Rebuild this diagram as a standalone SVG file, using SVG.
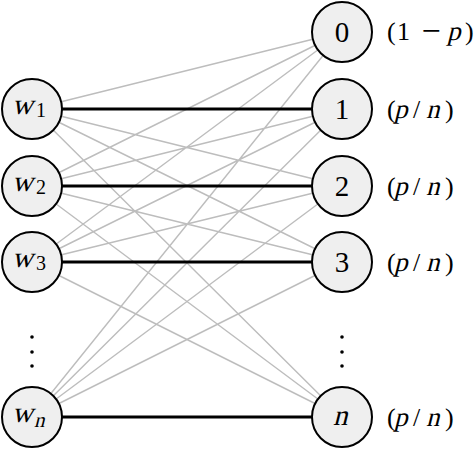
<svg xmlns="http://www.w3.org/2000/svg" width="474" height="450" viewBox="0 0 474 450">
<style>
.g{stroke:#bdbdbd;stroke-width:1.4;fill:none}
.k{stroke:#000;stroke-width:2.8;fill:none}
.n{fill:#efefef;stroke:#000;stroke-width:2}
text{font-family:'Liberation Serif','DejaVu Serif',serif;font-size:29px;fill:#000}
.c{text-anchor:middle}
.s{font-size:20px}
.sn{font-size:21px}
.l{font-size:26px}
.lp{font-size:27px}
.m{font-size:34px}
</style>
<rect width="474" height="450" fill="#fff"/>
<g id="connectors">
<path class="g" d="M32 109L342 32M32 109L342 186M32 109L342 262M32 109L342 417
M32 186L342 32M32 186L342 109M32 186L342 262M32 186L342 417
M32 262L342 32M32 262L342 109M32 262L342 186M32 262L342 417
M32 417L342 32M32 417L342 109M32 417L342 186M32 417L342 262"/>
<path class="k" d="M32 109H342M32 186H342M32 262H342M32 417H342"/>
</g>
<g id="w1"><circle class="n" cx="32" cy="109" r="30"/><text transform="translate(12,114) skewX(-14)">w</text><text class="s" x="36" y="117">1</text></g>
<g id="w2"><circle class="n" cx="32" cy="186" r="30"/><text transform="translate(12,191) skewX(-14)">w</text><text class="s" x="36" y="194">2</text></g>
<g id="w3"><circle class="n" cx="32" cy="262" r="30"/><text transform="translate(12,267) skewX(-14)">w</text><text class="s" x="36" y="270">3</text></g>
<g id="wn"><circle class="n" cx="32" cy="417" r="30"/><text transform="translate(12,422) skewX(-14)">w</text><text class="sn" transform="translate(34,427) skewX(-14)">n</text></g>
<g id="r0"><circle class="n" cx="342" cy="32" r="30"/><text class="c" x="342" y="42">0</text></g>
<g id="r1"><circle class="n" cx="342" cy="109" r="30"/><text class="c" x="342" y="119">1</text></g>
<g id="r2"><circle class="n" cx="342" cy="186" r="30"/><text class="c" x="342" y="196">2</text></g>
<g id="r3"><circle class="n" cx="342" cy="262" r="30"/><text class="c" x="342" y="272">3</text></g>
<g id="rn"><circle class="n" cx="342" cy="417" r="30"/><text transform="translate(333,425) skewX(-14)">n</text></g>
<g id="dots" fill="#000">
<circle cx="32" cy="337" r="1.8"/><circle cx="32" cy="352" r="1.8"/><circle cx="32" cy="366" r="1.8"/>
<circle cx="342" cy="337" r="1.8"/><circle cx="342" cy="352" r="1.8"/><circle cx="342" cy="366" r="1.8"/>
</g>
<g id="label0">
<text class="l" x="387" y="40">(</text>
<text class="l" x="397" y="40">1</text>
<text class="m c" x="431" y="42">−</text>
<text class="lp" transform="translate(447,40) skewX(-14)">p</text>
<text class="l" x="465" y="40">)</text>
</g>
<g id="label1">
<text class="l" x="387" y="118">(</text>
<text class="lp" transform="translate(394,118) skewX(-14)">p</text>
<text class="l" x="413" y="118">/</text>
<text class="lp" transform="translate(426,118) skewX(-14)">n</text>
<text class="l" x="445" y="118">)</text>
</g>
<g id="label2">
<text class="l" x="387" y="195">(</text>
<text class="lp" transform="translate(394,195) skewX(-14)">p</text>
<text class="l" x="413" y="195">/</text>
<text class="lp" transform="translate(426,195) skewX(-14)">n</text>
<text class="l" x="445" y="195">)</text>
</g>
<g id="label3">
<text class="l" x="387" y="271">(</text>
<text class="lp" transform="translate(394,271) skewX(-14)">p</text>
<text class="l" x="413" y="271">/</text>
<text class="lp" transform="translate(426,271) skewX(-14)">n</text>
<text class="l" x="445" y="271">)</text>
</g>
<g id="labeln">
<text class="l" x="387" y="426">(</text>
<text class="lp" transform="translate(394,426) skewX(-14)">p</text>
<text class="l" x="413" y="426">/</text>
<text class="lp" transform="translate(426,426) skewX(-14)">n</text>
<text class="l" x="445" y="426">)</text>
</g>
</svg>
